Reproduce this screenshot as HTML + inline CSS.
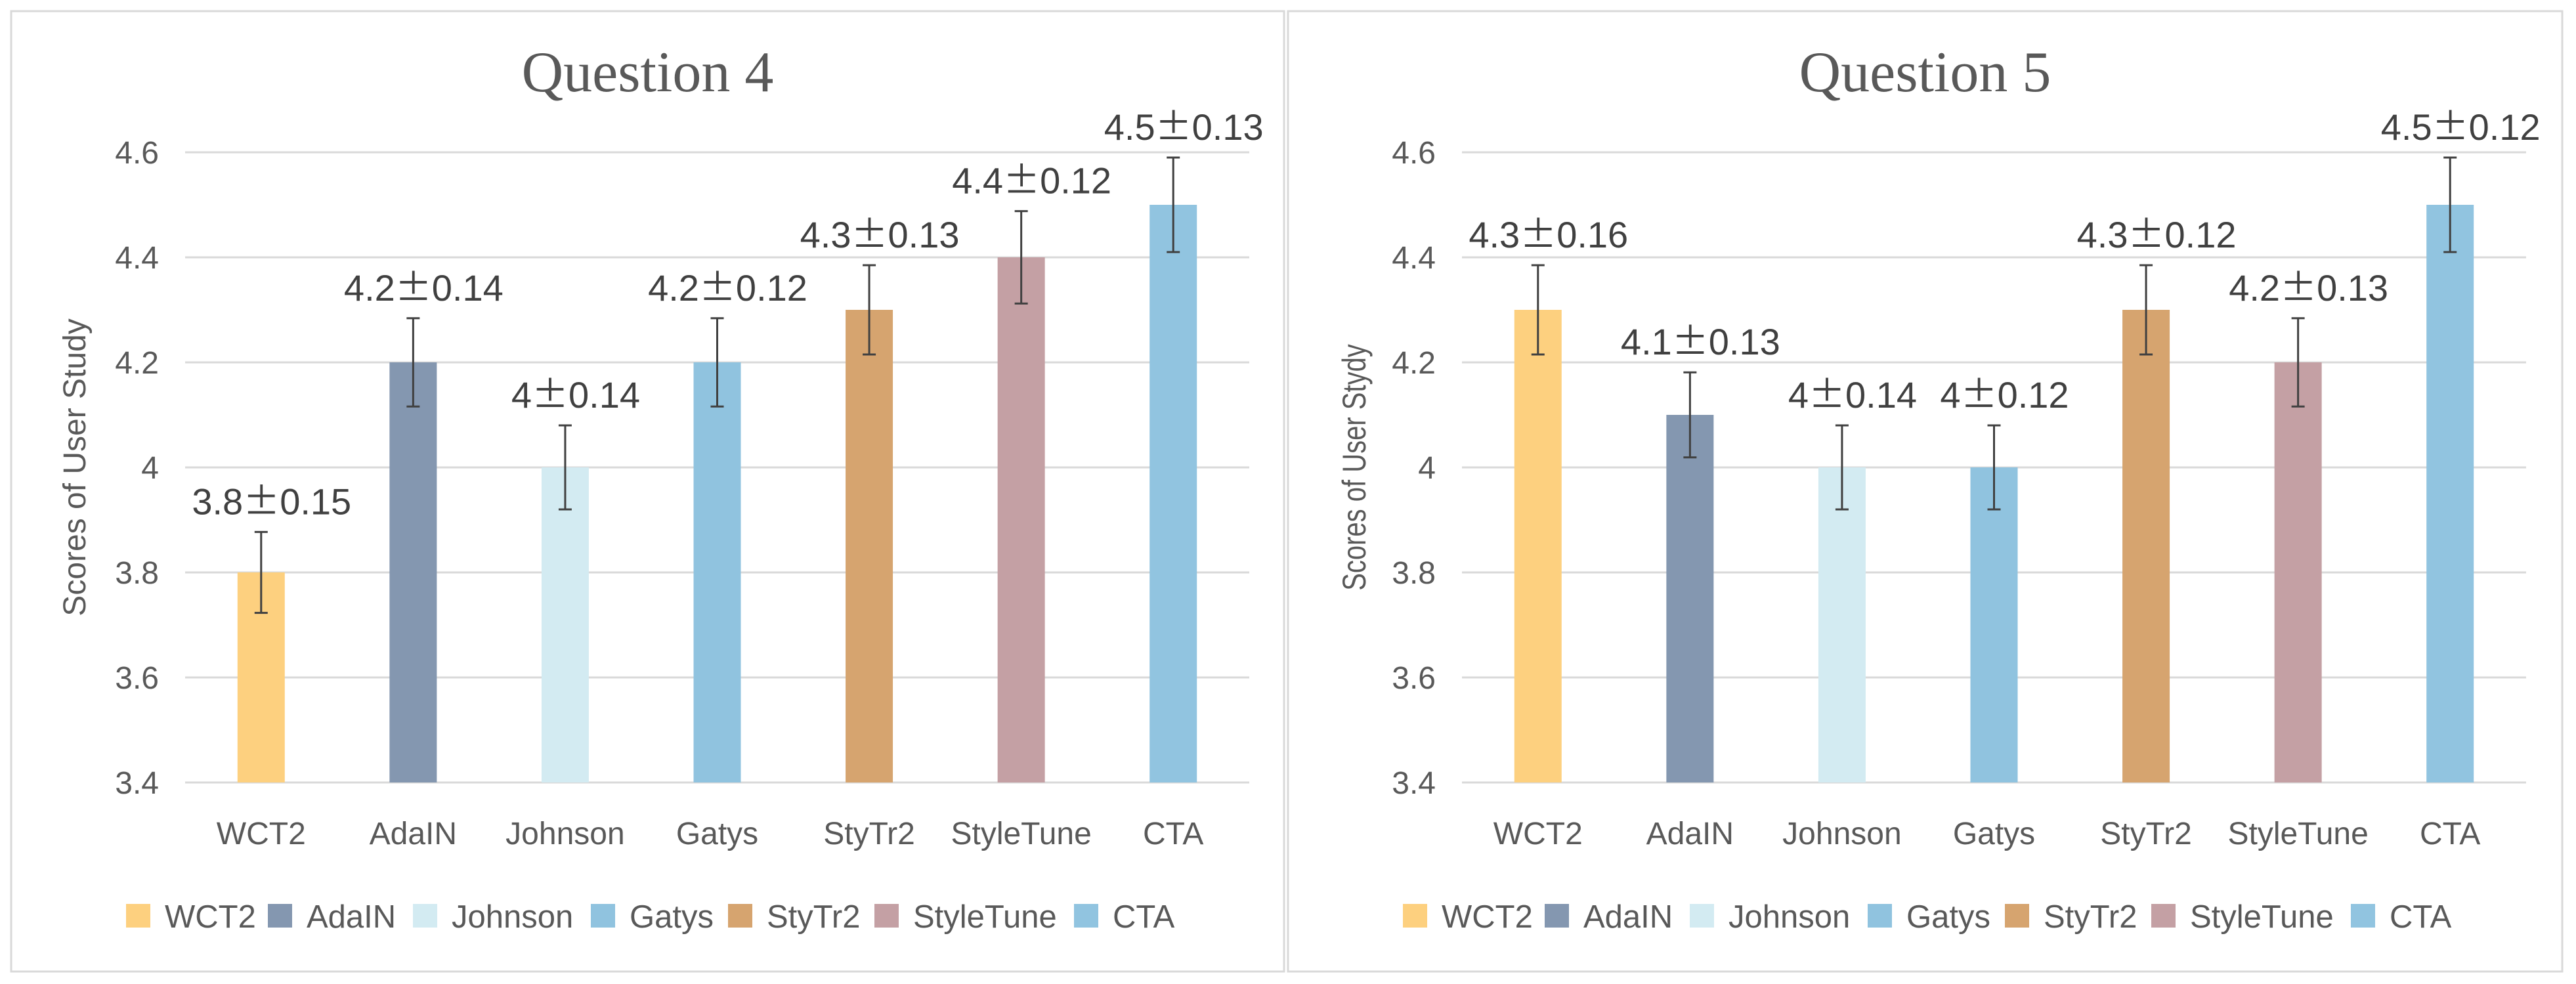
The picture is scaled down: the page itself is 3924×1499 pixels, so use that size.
<!DOCTYPE html>
<html><head><meta charset="utf-8"><style>
html,body{margin:0;padding:0;background:#fff;}
svg{display:block;}
</style></head><body>
<svg id="chart" width="3924" height="1499" viewBox="0 0 3924 1499" xmlns="http://www.w3.org/2000/svg"></svg>
<script>
const categories = ["WCT2","AdaIN","Johnson","Gatys","StyTr2","StyleTune","CTA"];
const colors = ["#FDD07F","#8497B0","#D3EBF2","#90C3DF","#D6A46F","#C4A0A4","#91C4E0"];
const q4Values = [3.8,4.2,4.0,4.2,4.3,4.4,4.5];
const q4Err = [0.077,0.084,0.08,0.084,0.085,0.088,0.09];
const q4Labels = ["3.8±0.15","4.2±0.14","4±0.14","4.2±0.12","4.3±0.13","4.4±0.12","4.5±0.13"];
const q5Values = [4.3,4.1,4.0,4.0,4.3,4.2,4.5];
const q5Err = [0.085,0.081,0.08,0.08,0.085,0.084,0.09];
const q5Labels = ["4.3±0.16","4.1±0.13","4±0.14","4±0.12","4.3±0.12","4.2±0.13","4.5±0.12"];
const yTicks = [3.4,3.6,3.8,4.0,4.2,4.4,4.6];
const yTickLabels = ["3.4","3.6","3.8","4","4.2","4.4","4.6"];

const NS = "http://www.w3.org/2000/svg";
const svg = document.getElementById('chart');
function mk(tag, attrs, parent, text){
  const e = document.createElementNS(NS, tag);
  for (const k in attrs) e.setAttribute(k, attrs[k]);
  if (text !== undefined) e.textContent = text;
  (parent||svg).appendChild(e);
  return e;
}
const legendOffsets = [192,408,629,900,1109,1332,1636];

function panel(idx, px, pw, title, ytitle, values, errs, labels, plotLeft, tickRight, ytitleX, condensed){
  const g = mk('g', {});
  
  
  const border = mk('rect', {x:px, y:17, width:pw, height:1463, fill:'#fff', stroke:'#D9D9D9', 'stroke-width':3}, g);
  
  
  const t = mk('text', {x:px+pw/2, y:139, 'text-anchor':'middle', 'font-family':'"Liberation Serif", serif', 'font-size':88, fill:'#595959'}, g, title);
  
  
  const plotRight = plotLeft + 1621;
  const y0 = 1192, y1 = 232, vMin = 3.4, vMax = 4.6;
  const yScale = v => y0 - (v - vMin) / (vMax - vMin) * (y0 - y1);
  const bandW = (plotRight - plotLeft) / categories.length;
  const xCenter = i => plotLeft + bandW * (i + 0.5);
  yTicks.forEach((v, i) => {
    const gl = mk('line', {x1:plotLeft, x2:plotRight, y1:yScale(v), y2:yScale(v), stroke:'#D9D9D9', 'stroke-width':3}, g);
    
    
    const tl = mk('text', {x:tickRight, y:yScale(v)+17, 'text-anchor':'end', 'font-family':'"Liberation Sans", sans-serif', 'font-size':48, fill:'#595959'}, g, yTickLabels[i]);
    
    
  });
  const yt = mk('text', {x:0, y:0, 'text-anchor':'middle', 'font-family':'"Liberation Sans", sans-serif', 'font-size':condensed?50:48, fill:'#595959', transform:'translate(' + ytitleX + ',712) rotate(-90)' + (condensed?' scale(0.8,1)':'')}, g, ytitle);
  
  
  const bw = 72;
  values.forEach((v, i) => {
    const cx = xCenter(i);
    const b = mk('rect', {x:cx-bw/2, y:yScale(v), width:bw, height:y0-yScale(v), fill:colors[i]}, g);
    
    
    const top = yScale(v + errs[i]), bot = yScale(v - errs[i]);
    const eb = mk('path', {d:'M'+cx+' '+top+'V'+bot+'M'+(cx-10)+' '+top+'H'+(cx+10)+'M'+(cx-10)+' '+bot+'H'+(cx+10), stroke:'#404040', 'stroke-width':3, fill:'none'}, g);
    
    
    const parts = labels[i].split('±');
    const dl = mk('text', {x:cx+16, y:top-27, 'text-anchor':'middle', 'font-family':'"Liberation Sans", sans-serif', 'font-size':56, fill:'#404040'}, g);
    
    
    mk('tspan', {}, dl, parts[0]);
    mk('tspan', {'font-family':'"Noto Sans CJK SC", sans-serif'}, dl, '±');
    mk('tspan', {}, dl, parts[1]);
    const xl = mk('text', {x:cx, y:1286, 'text-anchor':'middle', 'font-family':'"Liberation Sans", sans-serif', 'font-size':48, fill:'#595959'}, g, categories[i]);
    
    
    const lx = px - 17 + legendOffsets[i];
    const ls = mk('rect', {x:lx, y:1377, width:37, height:36, fill:colors[i]}, g);
    
    
    const lt = mk('text', {x:lx+59, y:1413, 'font-family':'"Liberation Sans", sans-serif', 'font-size':49, fill:'#595959'}, g, categories[i]);
    
    
  });
}
panel(0, 17, 1939, "Question 4", "Scores of User Study", q4Values, q4Err, q4Labels, 282, 242, 130, false);
panel(1, 1962, 1941, "Question 5", "Scores of User Stydy", q5Values, q5Err, q5Labels, 2227, 2187, 2080, true);
</script>
</body></html>
